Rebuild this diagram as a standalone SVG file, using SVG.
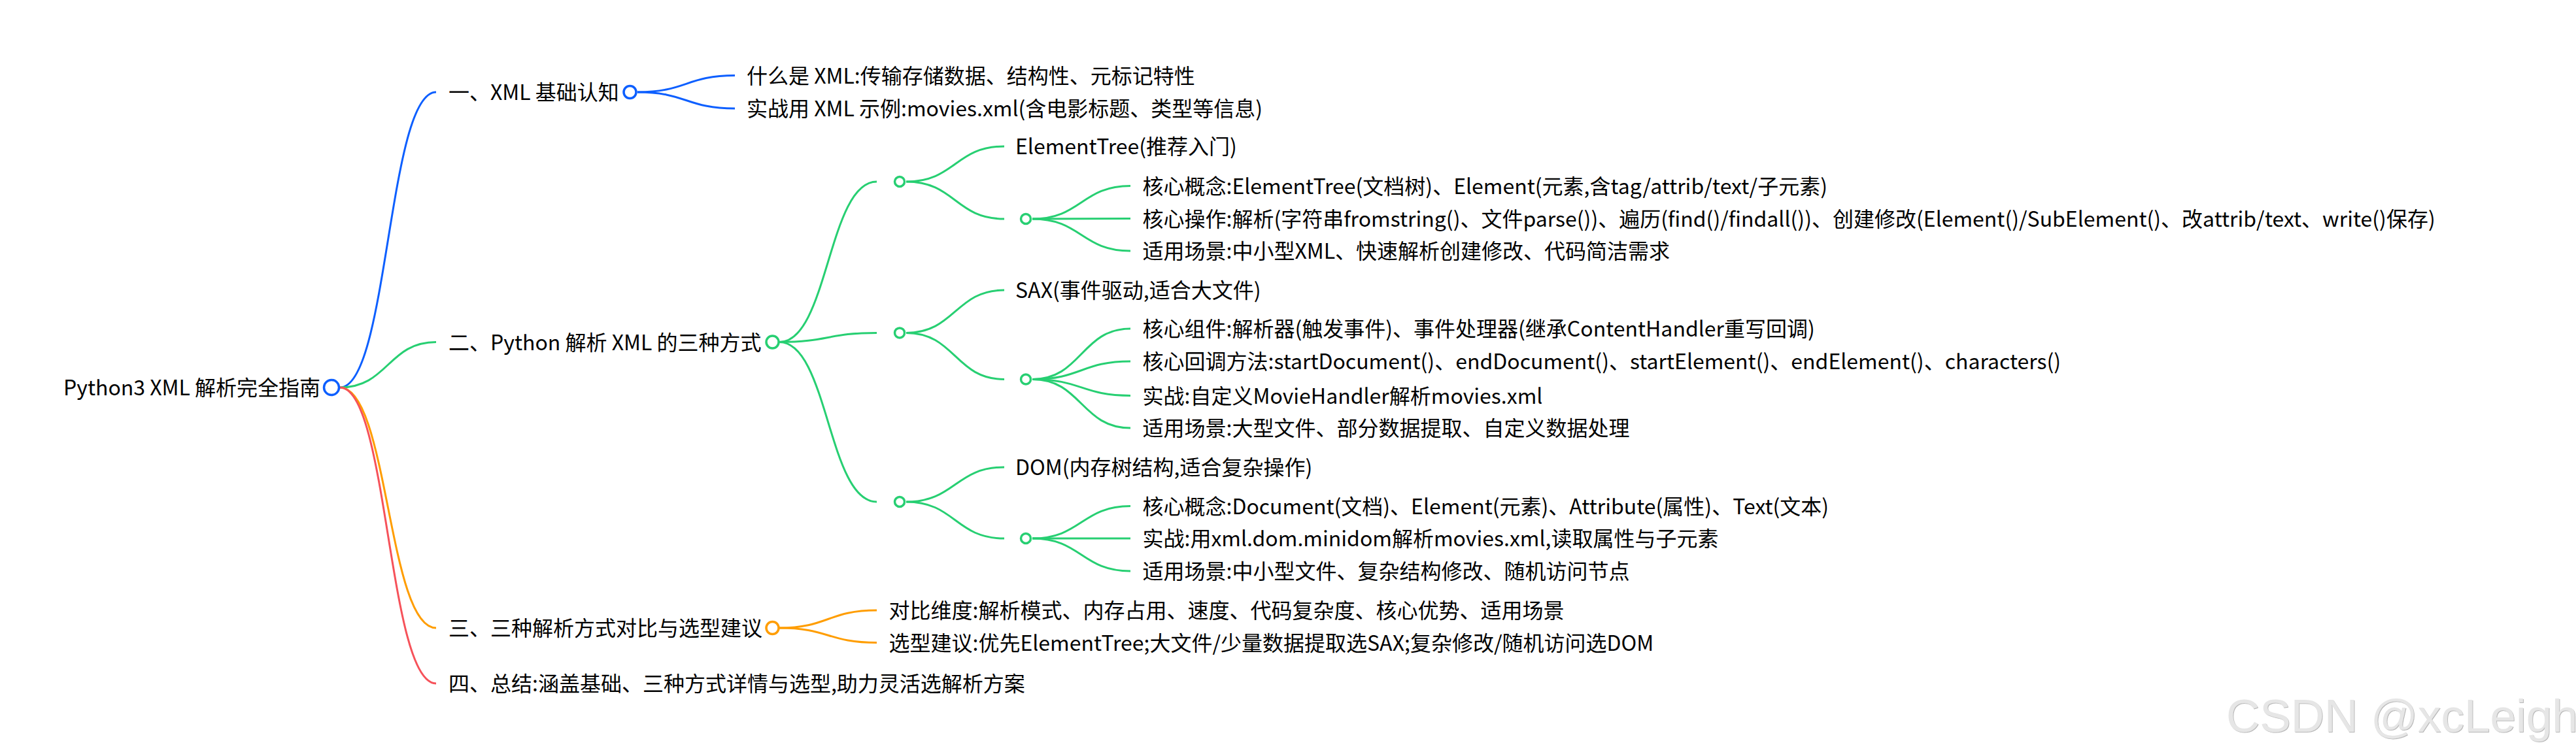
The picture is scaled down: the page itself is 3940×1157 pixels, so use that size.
<svg xmlns="http://www.w3.org/2000/svg" width="3940" height="1157" viewBox="0 0 3940 1157">
<defs>
<filter id="wmshadow" x="-5%" y="-20%" width="110%" height="140%"><feDropShadow dx="1" dy="1" stdDeviation="0.6" flood-color="#999999" flood-opacity="0.7"/></filter>
</defs>
<style>
text{font-family:"Noto Sans CJK SC","Noto Sans",sans-serif;font-size:32px;fill:#000}
.l{fill:none;stroke-width:3}
.c{fill:#fff;stroke-width:3.5}
.b{stroke:#0d5fff}.g{stroke:#27cf72}.o{stroke:#ff9d00}.r{stroke:#f6525a}
.wm{font-family:"Liberation Sans",Arial,sans-serif;font-size:71px;fill:#e6e6e6;filter:url(#wmshadow)}
</style>
<rect width="3940" height="1157" fill="#fff"/>
<g id="connectors">
<path class="l b" d="M520 593C593.500 593 593.500 141 667 141"/>
<path class="l g" d="M520 593C593.500 593 593.500 523.500 667 523.500"/>
<path class="l o" d="M520 593C593.500 593 593.500 961 667 961"/>
<path class="l r" d="M520 593C593.500 593 593.500 1046 667 1046"/>
<path class="l b" d="M975 141C1049.500 141 1049.500 115.600 1124 115.600"/>
<path class="l b" d="M975 141C1049.500 141 1049.500 166 1124 166"/>
<path class="l g" d="M1192 523.500C1266.500 523.500 1266.500 278 1341 278"/>
<path class="l g" d="M1192 523.500C1266.500 523.500 1266.500 509.400 1341 509.400"/>
<path class="l g" d="M1192 523.500C1266.500 523.500 1266.500 768 1341 768"/>
<path class="l g" d="M1386 278C1461 278 1461 224 1536 224"/>
<path class="l g" d="M1386 278C1461 278 1461 335 1536 335"/>
<path class="l g" d="M1386 509.400C1461 509.400 1461 444 1536 444"/>
<path class="l g" d="M1386 509.400C1461 509.400 1461 580.500 1536 580.500"/>
<path class="l g" d="M1386 768C1461 768 1461 715 1536 715"/>
<path class="l g" d="M1386 768C1461 768 1461 824 1536 824"/>
<path class="l g" d="M1579 335C1654 335 1654 284.500 1729 284.500"/>
<path class="l g" d="M1579 335C1654 335 1654 334.500 1729 334.500"/>
<path class="l g" d="M1579 335C1654 335 1654 384 1729 384"/>
<path class="l g" d="M1579 580.500C1654 580.500 1654 503 1729 503"/>
<path class="l g" d="M1579 580.500C1654 580.500 1654 553 1729 553"/>
<path class="l g" d="M1579 580.500C1654 580.500 1654 605.400 1729 605.400"/>
<path class="l g" d="M1579 580.500C1654 580.500 1654 655 1729 655"/>
<path class="l g" d="M1579 824C1654 824 1654 774.600 1729 774.600"/>
<path class="l g" d="M1579 824C1654 824 1654 824 1729 824"/>
<path class="l g" d="M1579 824C1654 824 1654 874 1729 874"/>
<path class="l o" d="M1192 961C1266.500 961 1266.500 934 1341 934"/>
<path class="l o" d="M1192 961C1266.500 961 1266.500 983.500 1341 983.500"/>
</g>
<g id="root"><circle class="c b" cx="507" cy="593" r="11.500"/><text x="97" y="605">Python3 XML 解析完全指南</text></g>
<g id="n1"><circle class="c b" cx="963.500" cy="141" r="9.500"/><text x="686" y="153">一、XML 基础认知</text></g>
<g id="n1a"><text x="1142" y="128">什么是 XML:传输存储数据、结构性、元标记特性</text></g>
<g id="n1b"><text x="1142" y="178">实战用 XML 示例:movies.xml(含电影标题、类型等信息)</text></g>
<g id="n2"><circle class="c g" cx="1181.500" cy="523.500" r="9.500"/><text x="686" y="536">二、Python 解析 XML 的三种方式</text></g>
<g id="n2a"><circle class="c g" cx="1376" cy="278" r="7.500"/></g>
<g id="n2a1"><text x="1553" y="236">ElementTree(推荐入门)</text></g>
<g id="n2a2"><circle class="c g" cx="1569" cy="335" r="7.500"/></g>
<g id="n2a2a"><text x="1747.500" y="297">核心概念:ElementTree(文档树)、Element(元素,含tag/attrib/text/子元素)</text></g>
<g id="n2a2b"><text x="1747.500" y="347">核心操作:解析(字符串fromstring()、文件parse())、遍历(find()/findall())、创建修改(Element()/SubElement()、改attrib/text、write()保存)</text></g>
<g id="n2a2c"><text x="1747.500" y="396">适用场景:中小型XML、快速解析创建修改、代码简洁需求</text></g>
<g id="n2b"><circle class="c g" cx="1376" cy="509.400" r="7.500"/></g>
<g id="n2b1"><text x="1553" y="456">SAX(事件驱动,适合大文件)</text></g>
<g id="n2b2"><circle class="c g" cx="1569" cy="580.500" r="7.500"/></g>
<g id="n2b2a"><text x="1747.500" y="515">核心组件:解析器(触发事件)、事件处理器(继承ContentHandler重写回调)</text></g>
<g id="n2b2b"><text x="1747.500" y="565">核心回调方法:startDocument()、endDocument()、startElement()、endElement()、characters()</text></g>
<g id="n2b2c"><text x="1747.500" y="618">实战:自定义MovieHandler解析movies.xml</text></g>
<g id="n2b2d"><text x="1747.500" y="667">适用场景:大型文件、部分数据提取、自定义数据处理</text></g>
<g id="n2c"><circle class="c g" cx="1376" cy="768" r="7.500"/></g>
<g id="n2c1"><text x="1553" y="727">DOM(内存树结构,适合复杂操作)</text></g>
<g id="n2c2"><circle class="c g" cx="1569" cy="824" r="7.500"/></g>
<g id="n2c2a"><text x="1747.500" y="787">核心概念:Document(文档)、Element(元素)、Attribute(属性)、Text(文本)</text></g>
<g id="n2c2b"><text x="1747.500" y="836">实战:用xml.dom.minidom解析movies.xml,读取属性与子元素</text></g>
<g id="n2c2c"><text x="1747.500" y="886">适用场景:中小型文件、复杂结构修改、随机访问节点</text></g>
<g id="n3"><circle class="c o" cx="1181.500" cy="961" r="9.500"/><text x="686" y="973">三、三种解析方式对比与选型建议</text></g>
<g id="n3a"><text x="1359.500" y="946">对比维度:解析模式、内存占用、速度、代码复杂度、核心优势、适用场景</text></g>
<g id="n3b"><text x="1359.500" y="996">选型建议:优先ElementTree;大文件/少量数据提取选SAX;复杂修改/随机访问选DOM</text></g>
<g id="n4"><text x="686" y="1058">四、总结:涵盖基础、三种方式详情与选型,助力灵活选解析方案</text></g>
<text class="wm" x="3405" y="1120">CSDN @xcLeigh</text>
</svg>
